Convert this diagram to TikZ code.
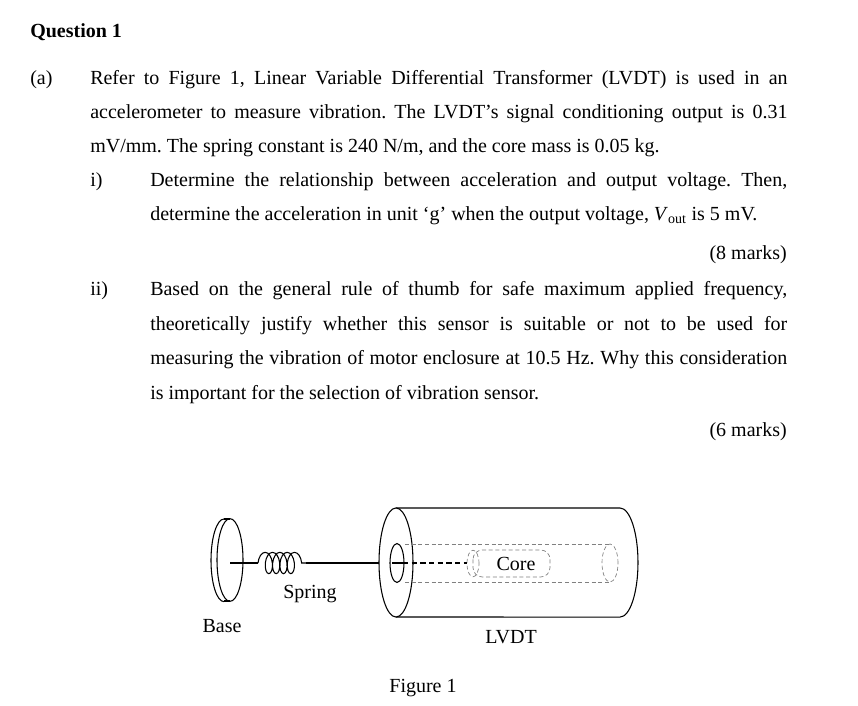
\documentclass[tikz,border=0pt]{standalone}
\usepackage{fontspec}
\setmainfont{Liberation Serif}
\usetikzlibrary{decorations.pathmorphing}
\frenchspacing
\begin{document}
\begin{tikzpicture}[x=0.75pt,y=-0.75pt,
  txt/.style={anchor=base west,inner sep=0pt,font=\fontsize{15}{17}\selectfont},
  lbl/.style={inner sep=0pt,font=\fontsize{15}{17}\selectfont},
  dsh/.style={dashed,gray,line width=0.5pt,dash pattern=on 3pt off 2pt}]
\useasboundingbox (0,0) rectangle (858,706);
\newcommand{\jl}[2]{\makebox[#1][s]{#2}}
\node[txt,font=\bfseries\fontsize{15}{17}\selectfont] (q) at (30,38) {Question 1};
\node[txt] (a) at (30,85) {(a)};
\node[txt] (l1) at (90,85) {\jl{523pt}{Refer to Figure 1, Linear Variable Differential Transformer (LVDT) is used in an}};
\node[txt] (l2) at (90,119) {\jl{523pt}{accelerometer to measure vibration. The LVDT’s signal conditioning output is 0.31}};
\node[txt] (l3) at (90,153) {mV/mm. The spring constant is 240 N/m, and the core mass is 0.05 kg.};
\node[txt] (i) at (90,187) {i)};
\node[txt] (l4) at (150,187) {\jl{477.75pt}{Determine the relationship between acceleration and output voltage. Then,}};
\node[txt] (l5) at (150,221) {determine the acceleration in unit ‘g’ when the output voltage, \textit{V}\textsubscript{out} is 5 mV.};
\node[txt,anchor=base east] (m1) at (787,260) {(8 marks)};
\node[txt] (ii) at (90,296) {ii)};
\node[txt] (l6) at (150,296) {\jl{477.75pt}{Based on the general rule of thumb for safe maximum applied frequency,}};
\node[txt] (l7) at (150,331) {\jl{477.75pt}{theoretically justify whether this sensor is suitable or not to be used for}};
\node[txt] (l8) at (150,365) {\jl{477.75pt}{measuring the vibration of motor enclosure at 10.5 Hz. Why this consideration}};
\node[txt] (l9) at (150,399) {is important for the selection of vibration sensor.};
\node[txt,anchor=base east] (m2) at (787,436) {(6 marks)};
% figure
\begin{scope}[line width=0.8pt]
\draw (224,519) arc[start angle=90,end angle=270,x radius=9.75pt,y radius=31pt];
\draw (224,519) -- (230,519);
\draw (224,601) -- (230,601);
\draw (230,560) ellipse (9.75pt and 31pt);
\draw (230,563) -- (258,563);
\draw[decorate,decoration={coil,amplitude=8pt,segment length=5.5pt}] (258,563) -- (306,563);
\draw (306,563) -- (403,563);
\draw[fill=white] (396,508) -- (620,508) arc[start angle=90,end angle=-90,x radius=13.5pt,y radius=40.9pt] -- (396,617);
\draw[fill=white] (396,562.5) ellipse (12.75pt and 40.9pt);
\draw (397,563) ellipse (5.25pt and 14.6pt);
\draw (392,563) -- (403,563);
\draw[dsh] (405,544) -- (610,544);
\draw[dsh] (405,582) -- (610,582);
\draw[dsh] (610,563) ellipse (6pt and 14.25pt);
\draw[dsh,rounded corners=7pt] (473,550) rectangle (550,577);
\draw[dsh] (473,563.5) ellipse (4.5pt and 10pt);
\draw[dashed,line width=1.2pt,dash pattern=on 4pt off 2.5pt] (403,563) -- (467,563);
\end{scope}
\node[lbl] (core) at (516,564) {Core};
\node[lbl] (spring) at (310,594) {Spring};
\node[lbl] (base) at (222,626) {Base};
\node[lbl] (lvdt) at (511,637) {LVDT};
\node[lbl] (fig) at (423,688) {Figure 1};
\end{tikzpicture}
\end{document}
